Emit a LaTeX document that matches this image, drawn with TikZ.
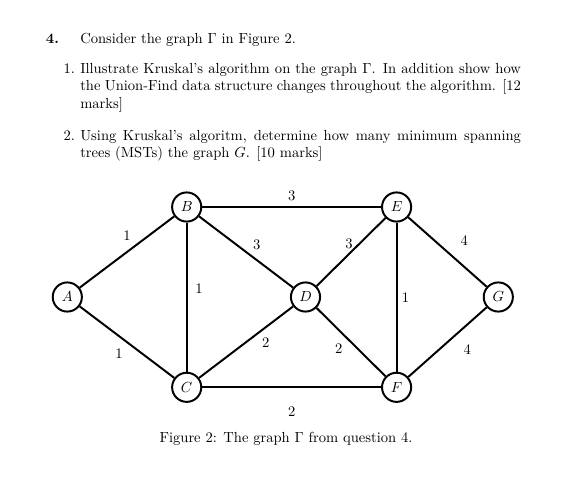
\documentclass[tikz,border=0pt]{standalone}
\usetikzlibrary{positioning}

\begin{document}
\begin{tikzpicture}[x=0.686pt, y=-0.686pt, line width=1.35pt,
                    vx/.style={draw, circle, minimum size=20pt, inner sep=0pt},
                    wt/.style={inner sep=0pt},
                    txt/.style={inner sep=0pt, anchor=base west}]
    \useasboundingbox (0,0) rectangle (587,483);
    % question text
    \node[txt] (q4) at (45,43.3) {\textbf{4.}};
    \node[txt] (q4txt) at (79.3,43.3) {Consider the graph $\Gamma$ in Figure 2.};
    \node[txt] (i1) at (62.7,73.3) {1.};
    \node[txt, text width=302.3pt, align=justify] (i1txt) at (79.3,73.3)
      {Illustrate Kruskal's algorithm on the graph $\Gamma$. In addition show how\linebreak
       the Union-Find data structure changes throughout the algorithm. [12\linebreak marks]};
    \node[txt] (i2) at (62.7,140.3) {2.};
    \node[txt, text width=302.3pt, align=justify] (i2txt) at (79.3,140.3)
      {Using Kruskal's algoritm, determine how many minimum spanning\linebreak
       trees (MSTs) the graph $G$. [10 marks]};
    % the graph
    \node[vx] (A) at (67.3,297) {$A$};
    \node[vx] (B) at (186.7,207) {$B$};
    \node[vx] (C) at (186.7,387.3) {$C$};
    \node[vx] (D) at (305.5,297) {$D$};
    \node[vx] (E) at (396.6,207) {$E$};
    \node[vx] (F) at (396.6,387.3) {$F$};
    \node[vx] (G) at (498.3,297) {$G$};
    \draw (A) -- node[wt, above=7.4pt] {1} (B);
    \draw (A) -- node[wt, below left=4pt and 2.3pt] {1} (C);
    \draw (B) -- node[wt, pos=.44, right=5.3pt] {1} (C);
    \draw (B) -- node[wt, above right=1.1pt and 4.2pt] {3} (D);
    \draw (B) -- node[wt, above=3.7pt] {3} (E);
    \draw (C) -- node[wt, right=10.4pt] {2} (D);
    \draw (C) -- node[wt, below=13pt] {2} (F);
    \draw (D) -- node[wt, pos=.47, above=3pt] {3} (E);
    \draw (D) -- node[wt, below left=0.6pt and 5.3pt] {2} (F);
    \draw (E) -- node[wt, right=2.9pt] {1} (F);
    \draw (E) -- node[wt, above right=4.1pt and 8.3pt] {4} (G);
    \draw (F) -- node[wt, below right=0.8pt and 10.4pt] {4} (G);
    % caption
    \node[inner sep=0pt, anchor=base] (cap) at (286,442.3) {Figure 2: The graph $\Gamma$ from question 4.};
\end{tikzpicture}
\end{document}
